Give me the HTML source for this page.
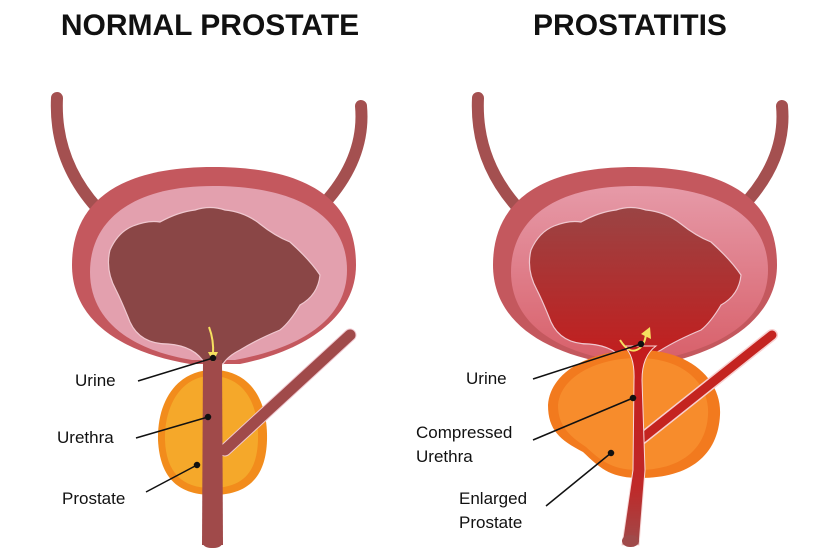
<!DOCTYPE html>
<html><head><style>body{margin:0;background:#fff}svg{display:block}</style></head><body>
<svg width="840" height="560" viewBox="0 0 840 560" xmlns="http://www.w3.org/2000/svg" font-family="Liberation Sans, sans-serif">
<defs>
<linearGradient id="cav2" x1="0" y1="0" x2="0" y2="1"><stop offset="0" stop-color="#9a4444"/><stop offset="1" stop-color="#c41c1c"/></linearGradient>
<linearGradient id="wall2" x1="0" y1="0" x2="0" y2="1"><stop offset="0" stop-color="#e69aa8"/><stop offset="1" stop-color="#d8606a"/></linearGradient>
<linearGradient id="ur2" x1="0" y1="0" x2="0" y2="1"><stop offset="0" stop-color="#c41c1c"/><stop offset="0.7" stop-color="#c02828"/><stop offset="1" stop-color="#a04a4a"/></linearGradient>
</defs>
<text x="210" y="35" font-size="30" font-weight="bold" text-anchor="middle" fill="#111">NORMAL PROSTATE</text>
<text x="630" y="35" font-size="30" font-weight="bold" text-anchor="middle" fill="#111">PROSTATITIS</text>

<!-- LEFT -->
<path d="M57 98 Q54 160 97 208" stroke="#a45050" stroke-width="12" fill="none" stroke-linecap="round"/>
<path d="M361 106 Q366 160 320 208" stroke="#a45050" stroke-width="12" fill="none" stroke-linecap="round"/>
<path d="M213 167 C315 167 356 205 356 265 C356 320 300 352 240 364 L190 364 C120 352 72 320 72 265 C72 205 115 167 213 167Z" fill="#c4585e"/>
<path d="M213 186 C300 186 347 218 347 270 C347 325 290 350 235 360 L192 360 C130 350 90 320 90 272 C90 222 130 186 213 186Z" fill="#e3a0ae"/>
<path d="M205 364 Q195 346 168 344 Q140 344 130 322 Q122 302 116 290 Q105 270 110 250 Q118 232 133 226 Q148 220 160 222 Q178 212 195 210 Q210 205 225 210 Q245 212 260 224 Q275 236 290 242 Q310 260 320 275 Q318 295 300 305 Q290 322 280 330 Q256 340 240 350 Q228 356 223 364Z" fill="#8a4646" stroke="#f0c8d0" stroke-width="1.2"/>
<path d="M213 370 C250 370 268 400 267 440 C266 475 250 495 213 495 C180 495 160 480 158 440 C157 400 178 370 213 370Z" fill="#f28c1c"/>
<path d="M211 376 C245 376 259 405 258 440 C257 470 245 488 211 488 C182 488 166 472 165 440 C164 405 182 376 211 376Z" fill="#f5a82a"/>
<path d="M350 335 L225 450" stroke="#f0c8d0" stroke-width="13" stroke-linecap="round"/>
<path d="M350 335 L225 450" stroke="#a04a4a" stroke-width="11" stroke-linecap="round"/>
<path d="M203 360 L202 545 L223 545 L222 360Z" fill="#a04a4a"/>
<rect x="202" y="535" width="21" height="13" rx="9" fill="#a04a4a"/>
<path d="M209 327 Q214 340 213 355" stroke="#f5e060" stroke-width="2" fill="none"/>
<path d="M208 352 L213 362 L218 352Z" fill="#f5e060"/>
<g stroke="#111" stroke-width="1.5" fill="#111">
<line x1="138" y1="381" x2="213" y2="358"/><circle cx="213" cy="358" r="2.5"/>
<line x1="136" y1="438" x2="208" y2="417"/><circle cx="208" cy="417" r="2.5"/>
<line x1="146" y1="492" x2="197" y2="465"/><circle cx="197" cy="465" r="2.5"/>
</g>
<g font-size="17" fill="#111">
<text x="75" y="386">Urine</text>
<text x="57" y="443">Urethra</text>
<text x="62" y="504">Prostate</text>
</g>

<!-- RIGHT -->
<path d="M478 98 Q475 160 518 208" stroke="#a45050" stroke-width="12" fill="none" stroke-linecap="round"/>
<path d="M782 106 Q787 160 741 208" stroke="#a45050" stroke-width="12" fill="none" stroke-linecap="round"/>
<g transform="translate(421,0)">
<path d="M213 167 C315 167 356 205 356 265 C356 320 300 352 240 364 L190 364 C120 352 72 320 72 265 C72 205 115 167 213 167Z" fill="#c4585e"/>
<path d="M213 186 C300 186 347 218 347 270 C347 325 290 350 235 360 L192 360 C130 350 90 320 90 272 C90 222 130 186 213 186Z" fill="url(#wall2)"/>
<path d="M205 364 Q195 346 168 344 Q140 344 130 322 Q122 302 116 290 Q105 270 110 250 Q118 232 133 226 Q148 220 160 222 Q178 212 195 210 Q210 205 225 210 Q245 212 260 224 Q275 236 290 242 Q310 260 320 275 Q318 295 300 305 Q290 322 280 330 Q256 340 240 350 Q228 356 223 364Z" fill="url(#cav2)" stroke="#f0c8d0" stroke-width="1.2"/>
</g>
<path d="M640 350 C690 350 722 380 720 415 C718 455 690 478 640 478 C610 478 600 468 583 452 C560 440 548 430 548 405 C550 372 590 350 640 350Z" fill="#f27a1e"/>
<path d="M638 358 C685 358 710 385 708 415 C706 450 680 470 638 470 C612 470 600 460 586 447 C568 435 558 425 558 405 C560 378 595 358 638 358Z" fill="#f78c2c"/>
<path d="M772 335 L640 440" stroke="#f8d0d0" stroke-width="12" stroke-linecap="round"/>
<path d="M772 335 L640 440" stroke="#c42420" stroke-width="9" stroke-linecap="round"/>
<path d="M624 346 Q635 356 634 380 L633 470 L622 545 L639 545 L645 470 L642 380 Q642 356 656 346Z" fill="url(#ur2)" stroke="#f8d8d8" stroke-width="1"/>
<rect x="622" y="535" width="17" height="12" rx="8" fill="#a04a4a"/>
<path d="M620 340 Q630 356 640 348 Q646 342 646 332" stroke="#f5e060" stroke-width="2" fill="none"/>
<path d="M641 334 L650 327 L651 339Z" fill="#f5e060"/>
<g stroke="#111" stroke-width="1.5" fill="#111">
<line x1="533" y1="379" x2="641" y2="344"/><circle cx="641" cy="344" r="2.5"/>
<line x1="533" y1="440" x2="633" y2="398"/><circle cx="633" cy="398" r="2.5"/>
<line x1="546" y1="506" x2="611" y2="453"/><circle cx="611" cy="453" r="2.5"/>
</g>
<g font-size="17" fill="#111">
<text x="466" y="384">Urine</text>
<text x="416" y="438">Compressed</text>
<text x="416" y="462">Urethra</text>
<text x="459" y="504">Enlarged</text>
<text x="459" y="528">Prostate</text>
</g>
</svg>
</body></html>
